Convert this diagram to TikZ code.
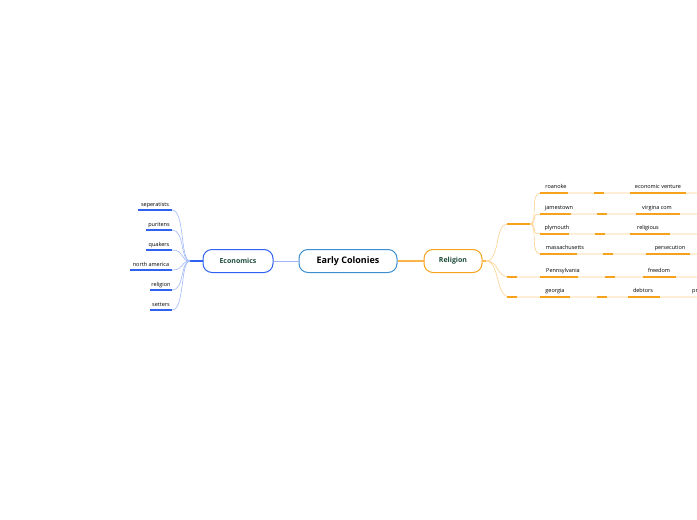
\documentclass[tikz,border=0pt]{standalone}
\usepackage{fontspec}
\setmainfont{Open Sans}
\begin{document}
\begin{tikzpicture}[x=1pt,y=-1pt,
  hub/.style={draw,rounded corners=9pt,line width=1pt,fill=white,minimum height=23pt,inner sep=0pt},
  lab/.style={font=\fontsize{5.5}{6}\selectfont,inner sep=0pt,anchor=base},
  bl/.style={draw=ec,line width=1.2pt},
  blt/.style={draw=ec!45,line width=0.6pt},
  ol/.style={draw=rc,line width=1.2pt},
  olt/.style={draw=rc!50,line width=0.6pt}]
\definecolor{eb}{HTML}{3B8ED0}\definecolor{ec}{HTML}{2F62F0}\definecolor{rc}{HTML}{F7A21B}\definecolor{tg}{HTML}{1E4D3A}
\useasboundingbox (0,0) rectangle (697,520);
% hubs
\node[hub,draw=eb,minimum width=98pt,font=\fontsize{9}{10}\selectfont\bfseries] (ec) at (348,261) {Early Colonies};
\node[hub,draw=ec,minimum width=70pt,font=\fontsize{7}{8}\selectfont\bfseries,text=tg] (econ) at (238,261) {Economics};
\node[hub,draw=rc,minimum width=58pt,font=\fontsize{7}{8}\selectfont\bfseries,text=tg] (rel) at (453,261) {Religion};
\draw[blt,line width=1pt] (econ.east) -- (ec.west);
\draw[draw=rc!80,line width=1.2pt] (ec.east) -- (rel.west);
% economics children
\coordinate (ej) at (190,261);
\draw[bl] (econ.west) -- (ej);
\foreach \t/\y/\w in {seperatists/210/42,puritens/230/34,quakers/250/34,north america/270/50,religion/290/30,setters/310/30}{
  \node[lab] (n\y) at ({173-\w/2+3},\y-4) {\t};
  \draw[bl] (180-\w,\y) -- (172,\y);
  \draw[blt] (172,\y) .. controls (185,\y) and (180,261) .. (ej);
}
% religion children
\coordinate (rj) at (486,261);
\draw[draw=rc!80,line width=1.2pt] (rel.east) -- (rj);
\coordinate (b1) at (507,224);
\draw[olt] (rj) .. controls (500,261) and (495,224) .. (b1);
\draw[ol] (b1) -- (530,224);
\foreach \a/\b/\y/\am/\bm/\ba/\bb in {roanoke/economic venture/193/556/658/630/686,jamestown/virgina com/214/559/657/636/680,plymouth/religious/234/557/648/630/670,massachusetts/persecution/254/565/670/646/690}{
  \node[lab] at (\am,\y-4.5) {\a};
  \node[lab] at (\bm,\y-4.5) {\b};
  \draw[olt] (530,224) .. controls (538,224) and (530,\y) .. (540,\y) -- (697,\y);
  \draw[ol] (540,\y) -- ({\am+12},\y);
  \draw[ol] ({\am+38},\y) -- ({\am+48},\y);
  \draw[ol] (\ba,\y) -- (\bb,\y);
}
\node[lab] at (700,229.5) {c};
\foreach \a/\b/\y/\am/\bm/\ba/\bb in {Pennsylvania/freedom/277/563/659/643/676,georgia/debtors/297/555/643/628/660}{
  \node[lab] at (\am,\y-4.5) {\a};
  \node[lab] at (\bm,\y-4.5) {\b};
  \draw[olt] (rj) .. controls (500,261) and (495,\y) .. (510,\y) -- (697,\y);
  \draw[ol] (507,\y) -- (517,\y);
  \draw[ol] (540,\y) -- ({\am+15},\y);
  \draw[ol] ({\am+42},\y) -- ({\am+52},\y);
  \draw[ol] (\ba,\y) -- (\bb,\y);
}
\node[lab] at (697,292.5) {pris};
\end{tikzpicture}
\end{document}
